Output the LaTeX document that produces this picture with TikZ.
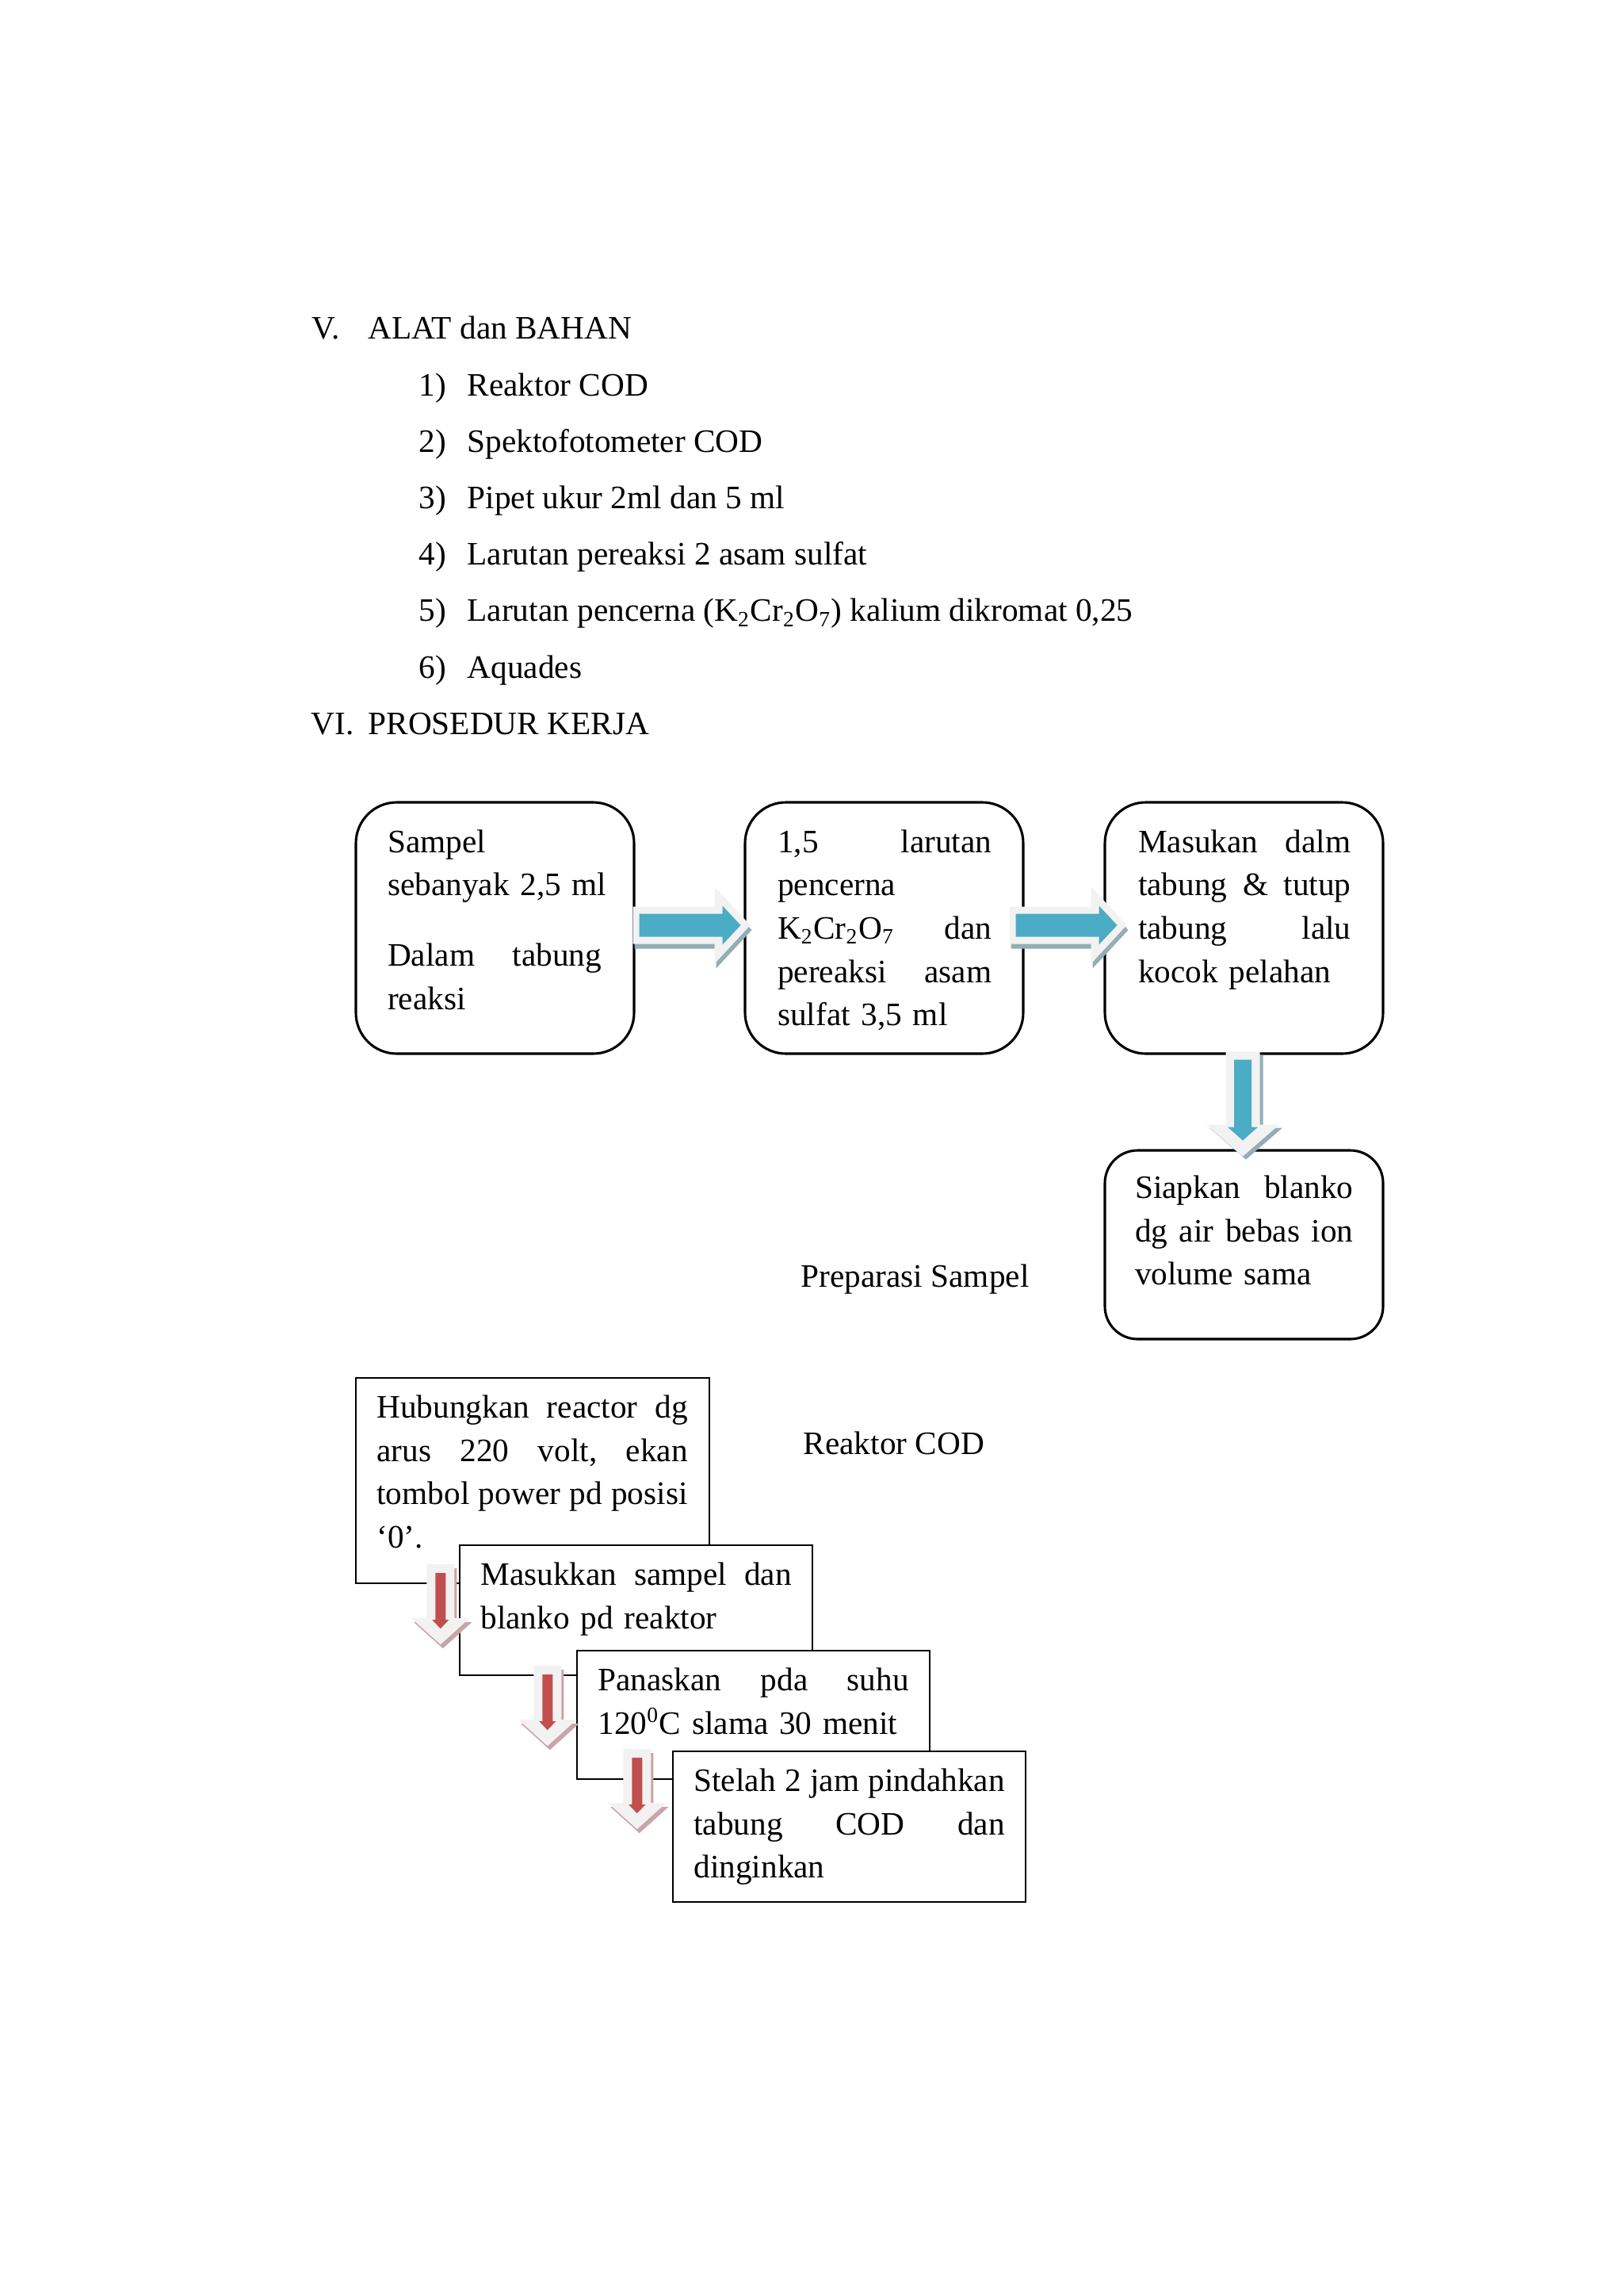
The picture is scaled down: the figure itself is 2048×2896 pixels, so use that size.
\documentclass[tikz,border=0pt]{standalone}
\usepackage{fontspec}
\setmainfont{Liberation Serif}
\usetikzlibrary{calc,fit}

\definecolor{arrowblue}{HTML}{4BACC6}
\definecolor{arrowred}{HTML}{C0504D}
\definecolor{shadeblue}{HTML}{93AEB5}
\definecolor{shadered}{HTML}{C9A4A8}
\definecolor{arrowpale}{HTML}{F2F2F2}

%% one justified line of a box text (\boxw is set by the btext style)
\newcommand{\jl}[1]{\makebox[\boxw][s]{#1}}

%% fat arrows, #1 = middle of the tail
\newcommand{\rightblock}[1]{%
  \begin{scope}[shift={(#1)}]
    \fill[shadeblue,shift={(2,6)}] (0,-23.5) -- (103,-23.5) -- (103,-48.5) -- (148,0) -- (103,48.5) -- (103,23.5) -- (0,23.5) -- cycle;
    \fill[arrowpale] (0,-23.5) -- (103,-23.5) -- (103,-48.5) -- (148,0) -- (103,48.5) -- (103,23.5) -- (0,23.5) -- cycle;
    \fill[arrowblue] (8,-14.5) -- (113,-14.5) -- (113,-24.5) -- (136,0) -- (113,24.5) -- (113,14.5) -- (8,14.5) -- cycle;
  \end{scope}}
\newcommand{\downblue}[1]{%
  \begin{scope}[shift={(#1)}]
    \fill[shadeblue,shift={(4,4)}] (-21.5,0) -- (-21.5,92) -- (-46,92) -- (0,132) -- (46,92) -- (21.5,92) -- (21.5,0) -- cycle;
    \fill[arrowpale] (-21.5,0) -- (-21.5,92) -- (-46,92) -- (0,132) -- (46,92) -- (21.5,92) -- (21.5,0) -- cycle;
    \fill[arrowblue] (-11,10) -- (-11,95) -- (-19,95) -- (0,112) -- (19,95) -- (11,95) -- (11,10) -- cycle;
  \end{scope}}
\newcommand{\downred}[1]{%
  \begin{scope}[shift={(#1)}]
    \fill[shadered,shift={(3,5)}] (-17.5,0) -- (-17.5,68) -- (-36.5,68) -- (0,101) -- (36.5,68) -- (17.5,68) -- (17.5,0) -- cycle;
    \fill[arrowpale] (-17.5,0) -- (-17.5,68) -- (-36.5,68) -- (0,101) -- (36.5,68) -- (17.5,68) -- (17.5,0) -- cycle;
    \fill[arrowred] (-6.5,11) -- (-6.5,70) -- (-10.5,70) -- (0,81) -- (10.5,70) -- (6.5,70) -- (6.5,11) -- cycle;
  \end{scope}}

\begin{document}
\begin{tikzpicture}[x=0.29066pt,y=-0.29066pt,font=\fontsize{12}{15.85}\selectfont,
    rbox/.style={draw,line width=0.9pt,rounded corners=15pt,inner sep=0pt},
    sbox/.style={draw,fill=white,line width=0.7pt,inner sep=0pt},
    btext/.style={anchor=base west,inner sep=0pt,align=left,text width=#1,
      execute at begin node={\def\boxw{#1}}},
    plain/.style={anchor=base west,inner sep=0pt}]
  \useasboundingbox (0,0) rectangle (2048,2896);

  %% V. alat dan bahan
  \node[plain] (v) at (393,427) {V.};
  \node[plain] (vtitle) at (464,427) {ALAT dan BAHAN};
  \foreach \t [count=\n] in {Reaktor COD, Spektofotometer COD, Pipet ukur 2ml dan 5 ml,
      Larutan pereaksi 2 asam sulfat,
      {Larutan pencerna (K\textsubscript{2}Cr\textsubscript{2}O\textsubscript{7}) kalium dikromat 0,25},
      Aquades} {
    \node[plain] (num\n) at (528,{499+71.2*(\n-1)}) {\n)};
    \node[plain] (item\n) at (589,{499+71.2*(\n-1)}) {\t};
  }
  %% VI. prosedur kerja
  \node[plain] (vi) at (392,926) {VI.};
  \node[plain] (vititle) at (464,926) {PROSEDUR KERJA};

  %% preparasi sampel
  \node[rbox,fit={(449,1012) (800,1329)}] (s1) {};
  \node[btext=78.5pt] (s1t) at ($(s1.north west)+(41,65)$)
    {Sampel\\ \mbox{sebanyak 2,5 ml}\\[10pt] \jl{Dalam\hfill tabung}\\ reaksi};
  \node[rbox,fit={(940,1012) (1291,1329)}] (s2) {};
  \node[btext=78.5pt] (s2t) at ($(s2.north west)+(42,65)$)
    {\jl{1,5\hfill larutan}\\ pencerna\\ \jl{K\textsubscript{2}Cr\textsubscript{2}O\textsubscript{7}\hfill dan}\\ \jl{pereaksi\hfill asam}\\ sulfat 3,5 ml};
  \node[rbox,fit={(1394,1012) (1745,1329)}] (s3) {};
  \node[btext=78pt] (s3t) at ($(s3.north west)+(43,65)$)
    {\jl{Masukan\hfill dalm}\\ \jl{tabung\hfill \&\hfill tutup}\\ \jl{tabung\hfill lalu}\\ kocok pelahan};
  \node[rbox,rounded corners=12pt,fit={(1394,1451) (1745,1689)}] (s4) {};
  \node[btext=80pt] (s4t) at ($(s4.north west)+(39,62)$)
    {\jl{Siapkan\hfill blanko}\\ \jl{dg\hfill air\hfill bebas\hfill ion}\\ volume sama};
  \node[plain] (prep) at (1010,1623) {Preparasi Sampel};

  \coordinate (b1) at ($(s1.east)+(-3,-3.5)$);
  \coordinate (b2) at ($(s2.east)+(-19,-3.5)$);
  \coordinate (b3) at ($(s3.south)+(-1.5,-4)$);
  \rightblock{b1}
  \rightblock{b2}
  \downblue{b3}

  %% reaktor COD
  \node[plain] (reak) at (1013,1834) {Reaktor COD};
  \node[sbox,fit={(449,1738) (895,1997)}] (r1) {};
  \node[btext=114pt] (r1t) at ($(r1.north west)+(27,52)$)
    {\jl{Hubungkan\hfill reactor\hfill dg}\\ \jl{arus\hfill 220\hfill volt,\hfill ekan}\\ \jl{tombol\hfill power\hfill pd\hfill posisi}\\ ‘0’.};
  \node[sbox,fit={(580,1949) (1025,2113)}] (r2) {};
  \node[btext=114pt] (r2t) at ($(r2.north west)+(27,52)$)
    {\jl{Masukkan\hfill sampel\hfill dan}\\ blanko pd reaktor};
  \node[sbox,fit={(728,2082) (1173,2244)}] (r3) {};
  \node[btext=114pt] (r3t) at ($(r3.north west)+(27,52)$)
    {\jl{Panaskan\hfill pda\hfill suhu}\\ \mbox{120\textsuperscript{0}C slama 30 menit}};
  \node[sbox,fit={(849,2209) (1294,2399)}] (r4) {};
  \node[btext=114pt] (r4t) at ($(r4.north west)+(27,52)$)
    {\jl{Stelah\hfill 2\hfill jam\hfill pindahkan}\\ \jl{tabung\hfill COD\hfill dan}\\ dinginkan};

  \coordinate (d1) at ($(r1.south west)+(108,-25)$);
  \coordinate (d2) at ($(r2.south west)+(112,-13)$);
  \coordinate (d3) at ($(r3.south west)+(77,-39)$);
  \downred{d1}
  \downred{d2}
  \downred{d3}
\end{tikzpicture}
\end{document}
